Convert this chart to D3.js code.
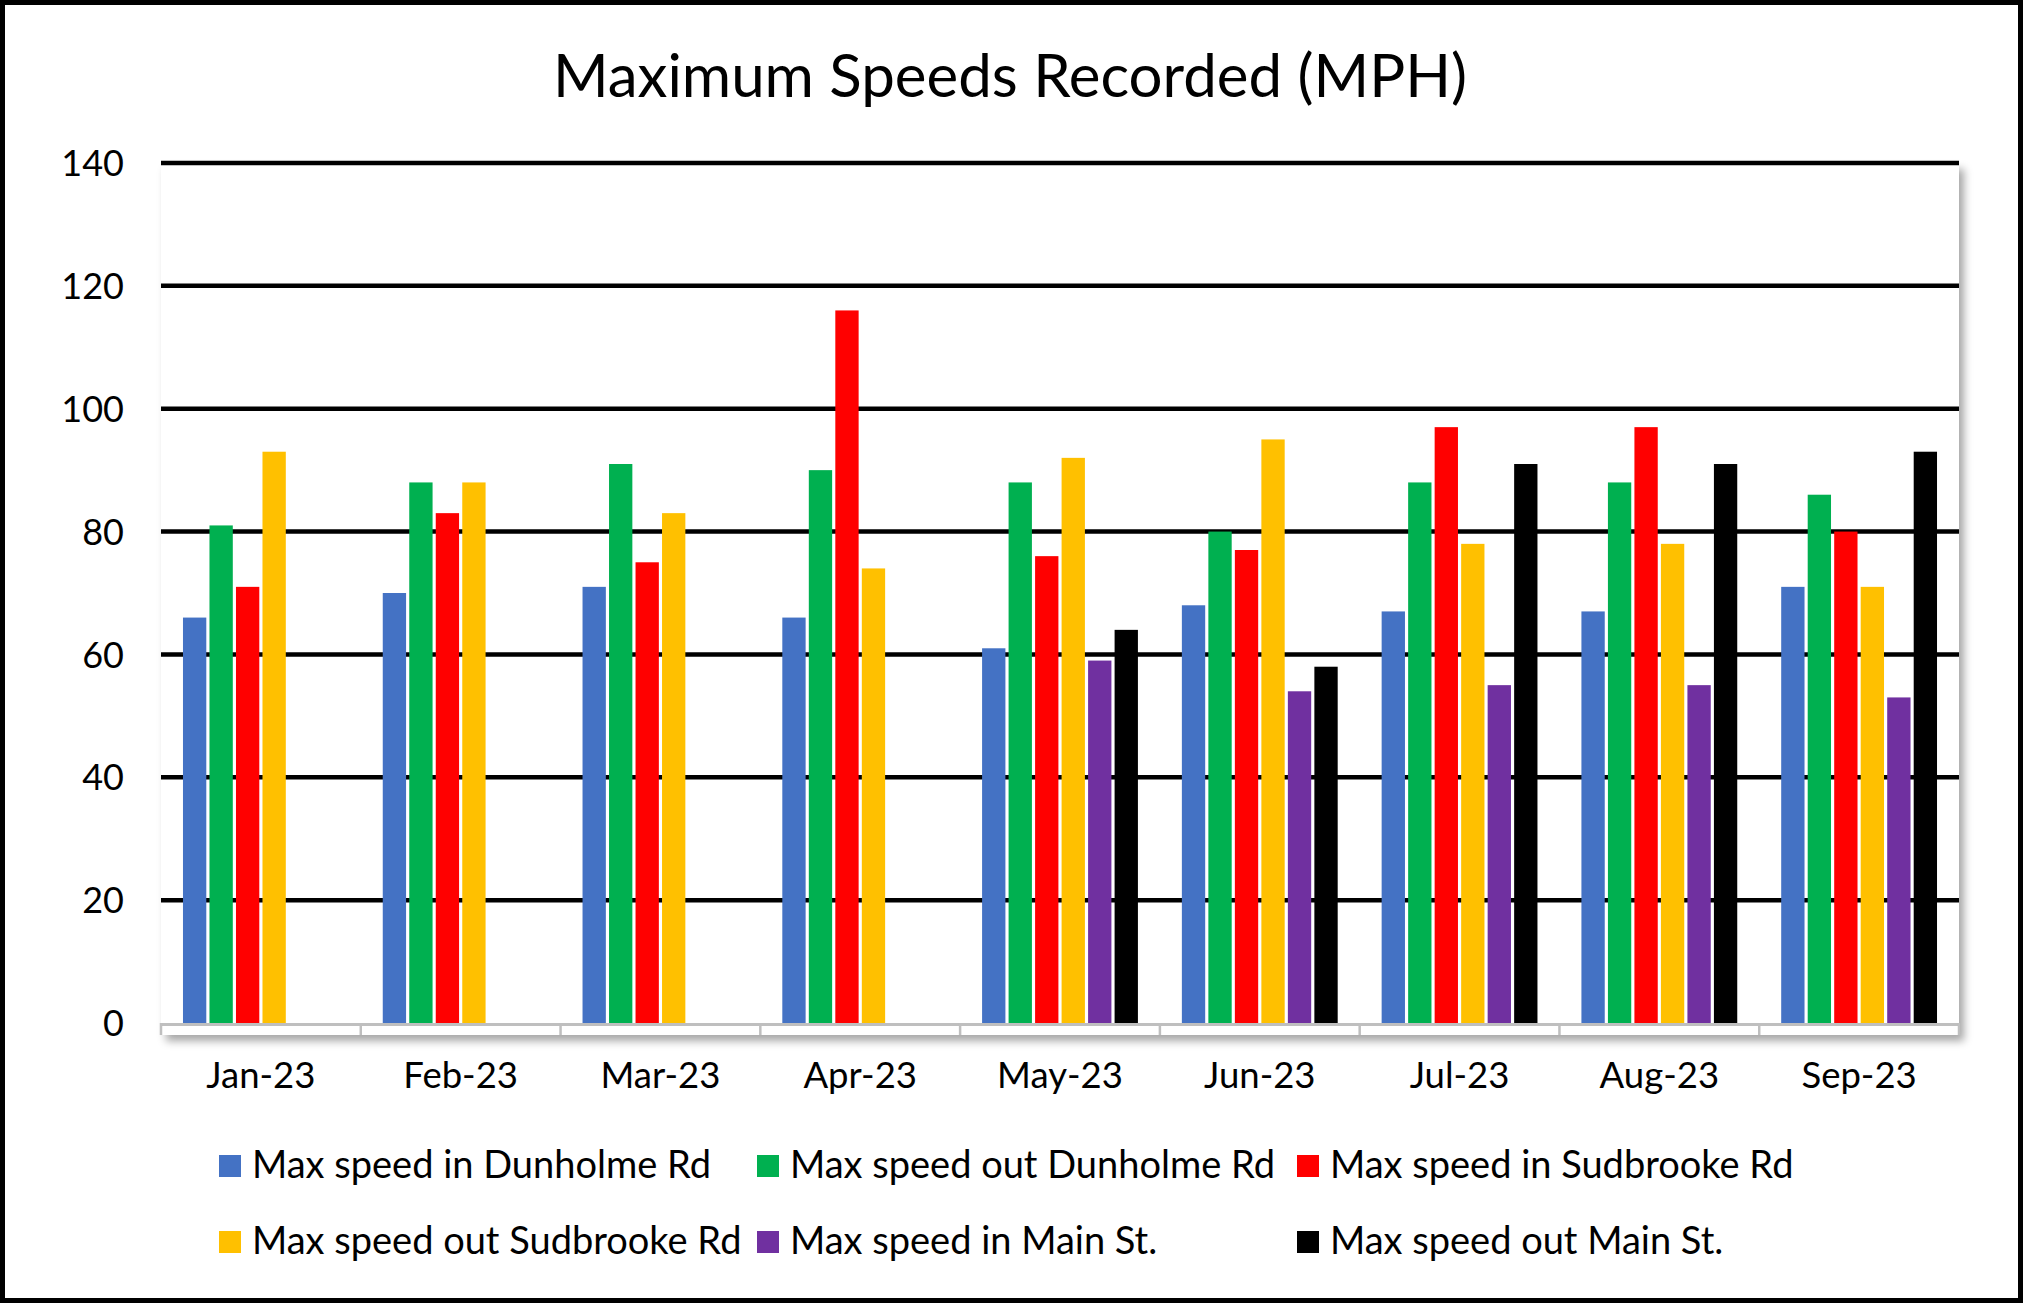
<!DOCTYPE html>
<html>
<head>
<meta charset="utf-8">
<script src="https://cdn.jsdelivr.net/npm/d3@7"></script>
<style>
  body { margin: 0; background: #fff; }
  .chart text { font-family: Lato, 'Open Sans', sans-serif; fill: #000; }
</style>
</head>
<body>
<div id="chart"></div>
<script>
var months = ['Jan-23', 'Feb-23', 'Mar-23', 'Apr-23', 'May-23', 'Jun-23', 'Jul-23', 'Aug-23', 'Sep-23'];
var seriesNames = ['Max speed in Dunholme Rd', 'Max speed out Dunholme Rd', 'Max speed in Sudbrooke Rd',
  'Max speed out Sudbrooke Rd', 'Max speed in Main St.', 'Max speed out Main St.'];
var seriesColors = ['#4472C4', '#00B050', '#FF0000', '#FFC000', '#7030A0', '#000000'];
var inDunholme = [66, 70, 71, 66, 61, 68, 67, 67, 71];
var outDunholme = [81, 88, 91, 90, 88, 80, 88, 88, 86];
var inSudbrooke = [71, 83, 75, 116, 76, 77, 97, 97, 80];
var outSudbrooke = [93, 88, 83, 74, 92, 95, 78, 78, 71];
var inMain = [null, null, null, null, 59, 54, 55, 55, 53];
var outMain = [null, null, null, null, 64, 58, 91, 91, 93];
var yTicks = [0, 20, 40, 60, 80, 100, 120, 140];

function SpeedChart() {
}

SpeedChart.prototype = {
  width: 2023,
  height: 1304,
  init: function (selector) {
    this.values = [inDunholme, outDunholme, inSudbrooke, outSudbrooke, inMain, outMain];
    this.drawSvg(selector);
    this.drawBars();
    this.drawLegend();
  },
  drawSvg: function (selector) {
    var chart = d3.select(selector)
      .append('svg:svg')
      .attr('width', this.width)
      .attr('height', this.height)
      .attr('class', 'chart');
    this.chart = chart;

    var defs = chart.append('defs');
    var shadow = defs.append('filter').attr('id', 'plotshadow')
      .attr('x', '-5%').attr('y', '-5%').attr('width', '110%').attr('height', '110%');
    shadow.append('feDropShadow')
      .attr('dx', 5).attr('dy', 6).attr('stdDeviation', 4)
      .attr('flood-color', '#000').attr('flood-opacity', 0.35);

    chart.append('rect')
      .attr('x', 2.5).attr('y', 2.5)
      .attr('width', this.width - 5).attr('height', this.height - 6)
      .attr('fill', '#fff').attr('stroke', '#000').attr('stroke-width', 5);

    chart.append('text')
      .attr('x', 1010).attr('y', 97)
      .attr('text-anchor', 'middle')
      .attr('font-size', 60)
      .text('Maximum Speeds Recorded (MPH)');

    this.left = 161;
    this.right = 1959;
    this.top = 163;
    this.bottom = 1023;

    this.x = d3.scaleBand().domain(months).range([this.left, this.right]).paddingInner(0.22).paddingOuter(0.11);
    this.x1 = d3.scaleBand().domain(d3.range(seriesNames.length)).range([0, this.x.bandwidth()]).paddingInner(0.12);
    this.y = d3.scaleLinear().domain([0, 140]).range([this.bottom, this.top]);

    chart.append('rect')
      .attr('x', this.left).attr('y', this.top)
      .attr('width', this.right - this.left).attr('height', this.bottom - this.top + 12)
      .attr('fill', '#fff')
      .attr('filter', 'url(#plotshadow)');

    var y = this.y;
    var grid = chart.append('g').attr('id', 'grid');
    grid.selectAll('line').data(yTicks.slice(1)).enter().append('line')
      .attr('x1', this.left).attr('x2', this.right)
      .attr('y1', function (d) { return y(d); })
      .attr('y2', function (d) { return y(d); })
      .attr('stroke', '#000').attr('stroke-width', 4.5);

    var yAxis = chart.append('g')
      .attr('transform', 'translate(' + this.left + ',0)')
      .call(d3.axisLeft(y).tickValues(yTicks).tickSize(0).tickPadding(37));
    yAxis.select('.domain').remove();
    yAxis.selectAll('text').attr('font-size', 36).attr('dy', '0.35em');

    var boundaries = months.map(function (m, i) { return this.left + i * (this.right - this.left) / months.length; }, this);
    boundaries.push(this.right);
    var xAxis = chart.append('g').attr('id', 'xaxis');
    xAxis.append('line')
      .attr('x1', this.left).attr('x2', this.right)
      .attr('y1', this.bottom + 1.5).attr('y2', this.bottom + 1.5)
      .attr('stroke', '#BFBFBF').attr('stroke-width', 3);
    xAxis.selectAll('line.tick').data(boundaries).enter().append('line')
      .attr('class', 'tick')
      .attr('x1', function (d) { return d; }).attr('x2', function (d) { return d; })
      .attr('y1', this.bottom).attr('y2', this.bottom + 12)
      .attr('stroke', '#BFBFBF').attr('stroke-width', 2.5);

    var x = this.x;
    chart.append('g').selectAll('text').data(months).enter().append('text')
      .attr('x', function (d) { return x(d) + x.bandwidth() / 2; })
      .attr('y', 1088)
      .attr('text-anchor', 'middle')
      .attr('font-size', 36.5)
      .text(function (d) { return d; });
  },
  drawBars: function () {
    var x = this.x, x1 = this.x1, y = this.y;
    var bars = this.chart.append('g').attr('id', 'bars');
    this.values.forEach(function (vals, s) {
      bars.append('g').selectAll('rect')
        .data(vals.map(function (v, i) { return { month: months[i], value: v }; })
          .filter(function (d) { return d.value !== null; }))
        .enter().append('rect')
        .attr('x', function (d) { return x(d.month) + x1(s); })
        .attr('y', function (d) { return y(d.value); })
        .attr('width', x1.bandwidth())
        .attr('height', function (d) { return y(0) - y(d.value); })
        .attr('fill', seriesColors[s]);
    });
  },
  drawLegend: function () {
    var cols = [219, 757, 1297];
    var rows = [1178, 1254];
    var legend = this.chart.append('g').attr('id', 'legend');
    seriesNames.forEach(function (name, i) {
      var cx = cols[i % 3], cy = rows[Math.floor(i / 3)];
      legend.append('rect')
        .attr('x', cx).attr('y', cy - 23)
        .attr('width', 22).attr('height', 22)
        .attr('fill', seriesColors[i]);
      legend.append('text')
        .attr('x', cx + 33).attr('y', cy)
        .attr('font-size', 38)
        .text(name);
    });
  }
}

new SpeedChart().init('#chart');
</script>
</body>
</html>
